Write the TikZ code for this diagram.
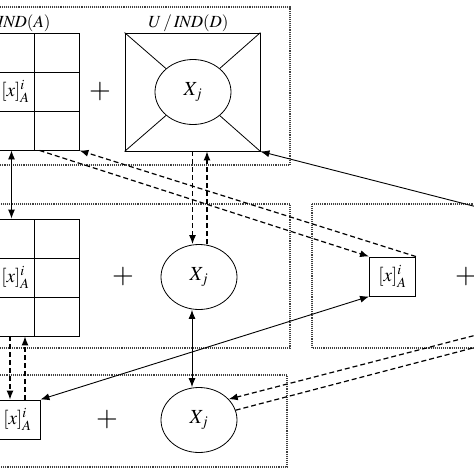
\documentclass[tikz,border=0pt]{standalone}
\usepackage{amsmath}
\usepackage{amssymb}
\usepackage{mathptmx}
\usepackage{tikz}
\usetikzlibrary{shapes.geometric,arrows.meta}

\tikzset{
    group/.style={densely dotted, line width=1.1pt, black!75},
    cell/.style={draw, minimum width=45pt, minimum height=39pt, inner sep=0pt, line width=0.9pt},
    setbox/.style={draw, minimum width=46pt, minimum height=39pt, inner sep=0pt, line width=0.9pt},
    blob/.style={draw, ellipse, minimum width=76pt, minimum height=65pt, inner sep=0pt, line width=0.8pt, font=\fontsize{20}{24}\selectfont},
    plus/.style={font=\fontsize{28}{28}\selectfont},
    setname/.style={font=\fontsize{19}{22}\selectfont},
    title/.style={above, inner sep=1pt},
    link/.style={line width=0.9pt, -{Latex[length=9pt,width=7pt]}},
    twolink/.style={line width=0.9pt, {Latex[length=9pt,width=7pt]}-{Latex[length=9pt,width=7pt]}},
    dlink/.style={link, dash pattern=on 5pt off 3pt, line width=1.2pt},
}

\begin{document}
\begin{tikzpicture}[x=1pt, y=-1pt, every node/.style={font=\fontsize{17}{20}\selectfont}]
    \useasboundingbox (0,0) rectangle (474,474);
    \clip (0,0) rectangle (474,474);

    \draw[group] (-100,7) rectangle (290,165);
    \draw[group] (-100,204) rectangle (290,348);
    \draw[group] (312,204) rectangle (600,348);
    \draw[group] (-100,375) rectangle (287,467);

    % top row
    \foreach \r in {1,2,3}
        \foreach \c in {1,2,3}
            \node[cell] (t\r\c) at ({-33.5+45*(\c-1)}, {52.5+39*(\r-1)}) {};
    \node[setname] at ([xshift=4pt]t22) {$[x]^i_A$};
    \node[title] (lblA) at (t12.north) {$U\,/\,\mathit{IND}(A)$};
    \node[plus] (p1) at (100,92) {$+$};
    \node[draw, minimum width=135pt, minimum height=118pt, line width=0.9pt] (ud) at (192.5,92) {};
    \node[blob] (xt) at (193,92) {$X_j$};
    \foreach \a in {north west, north east, south west, south east}
        \draw[line width=0.8pt] (ud.\a) -- (xt);
    \node[title] (lblD) at ([xshift=-4pt]ud.north) {$U\,/\,\mathit{IND}(D)$};

    % middle row
    \foreach \r in {1,2,3}
        \foreach \c in {1,2,3}
            \node[cell] (m\r\c) at ({-33.5+45*(\c-1)}, {238.5+39*(\r-1)}) {};
    \node[setname] at ([xshift=4pt]m22) {$[x]^i_A$};
    \node[plus] (p2) at (123,277) {$+$};
    \node[blob] (xm) at (199,277) {$X_j$};
    \node[setbox, setname] (sr) at (392.5,276.5) {$[x]^i_A$};
    \node[plus] (p3) at (466,277) {$+$};

    % bottom row
    \node[setbox, setname, minimum width=45pt] (sb) at (17.5,419.5) {$[x]^i_A$};
    \node[plus] (p4) at (107,420) {$+$};
    \node[blob] (xb) at (199,420) {$X_j$};

    \coordinate (eastA) at (520,218);
    \coordinate (eastB) at (520,323.7);
    \coordinate (eastC) at (520,335.6);

    \draw[twolink] (t32.south) -- (m12.north);
    \draw[dlink] ([xshift=6pt]t33.south west) -- (sr.north west);
    \draw[dlink] (sr.north east) -- (t33.south east);
    \draw[link] (eastA) -- (ud.south east);
    \draw[dlink] (ud.south) -- (ud.south |- xm.north);
    \draw[dlink] ([xshift=8pt]xm.north) -- ([xshift=8pt]xm.north |- ud.south);
    \draw[twolink] (sb.north east) -- (sr.south west);
    \draw[twolink] ([xshift=-7pt]xm.south) -- ([xshift=-7pt]xm.south |- xb.north);
    \draw[dlink] ([xshift=-7.5pt]sb.north |- m32.south) -- ([xshift=-7.5pt]sb.north);
    \draw[dlink] ([xshift=7.5pt]sb.north) -- ([xshift=7.5pt]sb.north |- m32.south);
    \draw[dlink] (eastB) -- (xb.35);
    \draw[dlink] (xb.15) -- (eastC);
\end{tikzpicture}
\end{document}
